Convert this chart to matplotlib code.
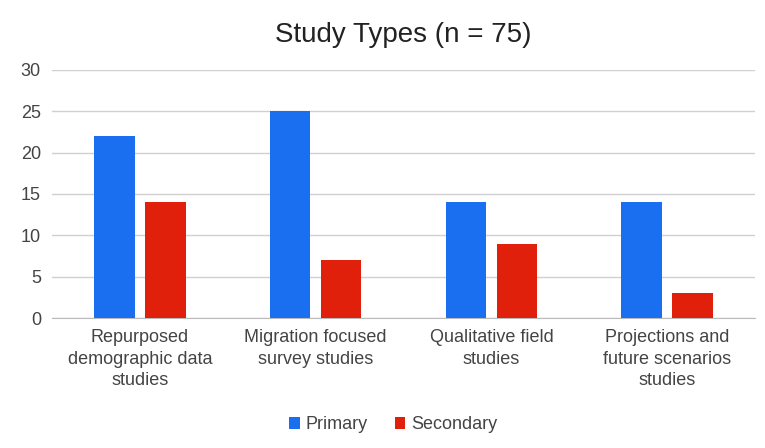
import numpy as np
import matplotlib.pyplot as plt

categories = ["Repurposed\ndemographic data\nstudies",
              "Migration focused\nsurvey studies",
              "Qualitative field\nstudies",
              "Projections and\nfuture scenarios\nstudies"]
primary = [22, 25, 14, 14]
secondary = [14, 7, 9, 3]

plt.rcParams["font.family"] = ["Liberation Sans", "DejaVu Sans"]

fig = plt.figure(figsize=(7.65, 4.48), dpi=100)
ax = fig.add_axes([0.068, 0.29, 0.919, 0.554])

x = np.arange(len(categories))
w = 0.23
gap = 0.03
ax.bar(x - w / 2 - gap, primary, w, color="#1a6ef0", label="Primary", zorder=3)
ax.bar(x + w / 2 + gap, secondary, w, color="#e0200b", label="Secondary", zorder=3)

ax.set_xlim(-0.5, len(categories) - 0.5)
ax.set_ylim(0, 30)
ax.set_yticks(range(0, 31, 5))
ax.grid(axis="y", color="#d0d0d0", linewidth=1, zorder=0)
for s in ["top", "right", "left"]:
    ax.spines[s].set_visible(False)
ax.spines["bottom"].set_color("#bbbbbb")
ax.tick_params(axis="both", length=0, labelsize=13, colors="#444444", pad=8)
ax.set_xticks(x)
ax.set_xticklabels(categories, linespacing=1.35)

ax.set_title("Study Types (n = 75)", fontsize=20, color="#222222", pad=20)

ax.legend(loc="upper center", bbox_to_anchor=(0.485, -0.33), ncol=2, frameon=False,
          fontsize=13, handlelength=0.6, handleheight=0.6, handletextpad=0.3,
          columnspacing=1.5, labelcolor="#444444")

fig.savefig("out.png", dpi=100)
